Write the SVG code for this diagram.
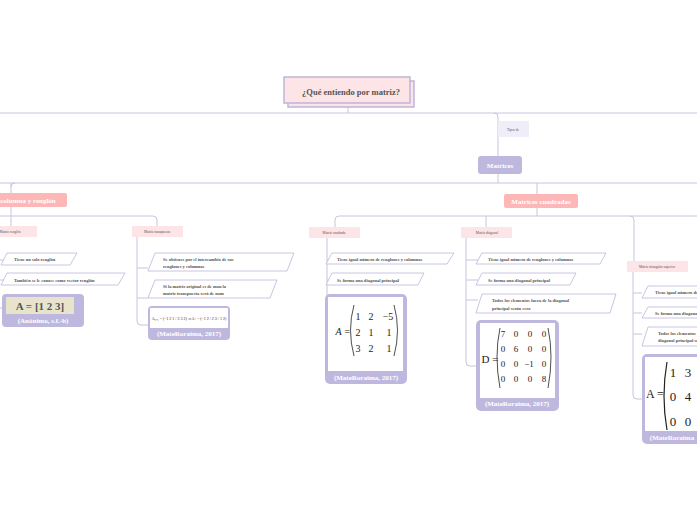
<svg xmlns="http://www.w3.org/2000/svg" width="697" height="520" viewBox="0 0 697 520">
<style>
.c{fill:none;stroke:#c9c3e0;stroke-width:1}
.t{font-family:"Liberation Serif",serif;fill:#555}
.sub{fill:#fde4e6}
.par{fill:#fff;stroke:#bdb5da;stroke-width:0.8}
.cap{fill:#bfb8de}
.w{fill:#fff}
.ct{font-family:"Liberation Serif",serif;fill:#fff;font-weight:bold;font-size:7px;text-anchor:middle}
.m{font-family:"Liberation Serif",serif;fill:#222;text-anchor:middle}
</style>
<rect width="697" height="520" fill="#fff"/>
<g id="connectors" class="c">
<path d="M348 104V113M0 113H697"/>
<path d="M494 113Q498 113 498 117V170"/>
<path d="M495 166L498 170L501 166"/>
<path d="M498 174V183M0 183H697"/>
<path d="M11 183V195M15 183Q11 183 11 187"/>
<path d="M537 183V195M11 207V216M0 216H153Q157 216 157 220V227"/>
<path d="M11 216V227M537 207V216M339 216H697M339 216Q335 216 335 220V227M486 216V227M630 216Q634 216 634 220V262"/>
<path d="M137 237V321Q137 325 141 325H148M137 268H148M137 298H148"/>
<path d="M327 237V352Q327 356 331 356H338M327 260H338M327 280H338M327 300H338"/>
<path d="M466 237V362Q466 366 470 366H478M466 260H478M466 280H478M466 300H478"/>
<path d="M633 271V395Q633 399 637 399H642M633 293H642M633 313H642M633 334H642"/>
<path d="M0 260H4M0 280H4M0 308H4"/>
</g>
<g id="root">
<rect x="288" y="81" width="126" height="26" fill="#fde4e6" stroke="#bdb5da" stroke-width="1.5"/>
<rect x="284" y="77" width="126" height="26" fill="#fde4e6" stroke="#bdb5da" stroke-width="1.5"/>
<text x="351" y="95" class="t" font-size="8.5" font-weight="bold" text-anchor="middle">¿Qué entiendo por matriz?</text>
</g>
<g id="tipos"><rect x="498" y="121" width="31" height="16" fill="#efedf8"/><text x="513" y="131" class="t" font-size="3.5" text-anchor="middle">Tipos de</text></g>
<g id="matrices"><rect x="478" y="156" width="44" height="18" rx="3" fill="#bfb8de"/><text x="500" y="168" class="ct" font-size="7">Matrices</text></g>
<g id="colren"><rect x="-10" y="193" width="77" height="14" rx="2" fill="#fdb7b7"/><text x="28" y="203" class="ct">columna y renglón</text></g>
<g id="cuadradas"><rect x="504" y="194" width="74" height="14" rx="2" fill="#fdb7b7"/><text x="541" y="204" class="ct">Matrices cuadradas</text></g>
<g id="renglon"><rect x="-2" y="226" width="39" height="11" class="sub"/><text x="10" y="233" class="t" font-size="3.5" text-anchor="middle">Matriz renglón</text></g>
<g id="transpuesta"><rect x="132" y="226" width="51" height="11" class="sub"/><text x="157" y="233" class="t" font-size="3.5" text-anchor="middle">Matriz transpuesta</text></g>
<g id="cuadrada"><rect x="309" y="227" width="51" height="11" class="sub"/><text x="334" y="234" class="t" font-size="3.5" text-anchor="middle">Matriz cuadrada</text></g>
<g id="diagonal"><rect x="461" y="227" width="51" height="11" class="sub"/><text x="487" y="234" class="t" font-size="3.5" text-anchor="middle">Matriz diagonal</text></g>
<g id="triangular"><rect x="627" y="261" width="61" height="11" class="sub"/><text x="657" y="268" class="t" font-size="3.5" text-anchor="middle">Matriz triangular superior</text></g>
<g id="r1"><path d="M7 253H77L70 265H1Z" class="par"/><text x="14" y="261" class="t" font-size="4.5" font-weight="bold">Tiene un solo renglón</text></g>
<g id="r2"><path d="M7 273H125L118 285H1Z" class="par"/><text x="14" y="282" class="t" font-size="4.5" font-weight="bold">También se le conoce como vector renglón</text></g>
<g id="r3"><rect x="2" y="294" width="82" height="33" rx="4" class="cap"/><rect x="6" y="297" width="68" height="17" fill="#e8e4cc"/><text x="40" y="310" class="t" font-size="11" font-weight="bold" text-anchor="middle" fill="#333">A = [1  2  3]</text><text x="43" y="323" class="ct">(Anónimo, s.f.-b)</text></g>
<g id="t1"><path d="M155 253H294L287 271H148Z" class="par"/><text x="163" y="261" class="t" font-size="4.5" font-weight="bold">Se obtienes por el intercambio de sus</text><text x="163" y="268" class="t" font-size="4.5" font-weight="bold">renglones y columnas</text></g>
<g id="t2"><path d="M155 280H277L270 298H148Z" class="par"/><text x="163" y="288" class="t" font-size="4.5" font-weight="bold">Si la matriz original es de mxn la</text><text x="163" y="295" class="t" font-size="4.5" font-weight="bold">matriz transpuesta será de nxm</text></g>
<g id="t3"><rect x="148" y="306" width="82" height="34" rx="4" class="cap"/><rect x="150" y="308" width="78" height="20" class="w"/><text x="189" y="320" class="m" font-size="4">A₂ₓ₃ = (−1 2 1 / 2 3 2)  ⇒  Aᵀ = (−1 2 / 2 3 / 1 2)</text><text x="189" y="336" class="ct">(MateRoraima, 2017)</text></g>
<g id="c1"><path d="M332 253H454L447 264H326Z" class="par"/><text x="337" y="261" class="t" font-size="4.5" font-weight="bold">Tiene igual número de renglones y columnas</text></g>
<g id="c2"><path d="M332 273H424L418 285H326Z" class="par"/><text x="337" y="282" class="t" font-size="4.5" font-weight="bold">Se forma una diagonal principal</text></g>
<g id="c3"><rect x="325" y="294" width="82" height="90" rx="5" class="cap"/><rect x="328" y="297" width="75" height="74" class="w"/>
<text x="343" y="335" class="m" font-size="10" font-style="italic">A =</text>
<g class="m" font-size="10"><text x="358" y="320">1</text><text x="371" y="320">2</text><text x="388" y="320">−5</text><text x="358" y="336">2</text><text x="371" y="336">1</text><text x="389" y="336">1</text><text x="358" y="352">3</text><text x="371" y="352">2</text><text x="389" y="352">1</text></g>
<path d="M354 305Q347 330 354 356M394 305Q401 330 394 356" fill="none" stroke="#222" stroke-width="0.8"/>
<text x="366" y="380" class="ct">(MateRoraima, 2017)</text></g>
<g id="d1"><path d="M482 253H606L600 264H476Z" class="par"/><text x="488" y="261" class="t" font-size="4.5" font-weight="bold">Tiene igual número de renglones y columnas</text></g>
<g id="d2"><path d="M482 273H576L570 285H476Z" class="par"/><text x="488" y="282" class="t" font-size="4.5" font-weight="bold">Se forma una diagonal principal</text></g>
<g id="d3"><path d="M482 294H616L610 313H476Z" class="par"/><text x="492" y="302" class="t" font-size="4.5" font-weight="bold">Todos los elementos fuera de la diagonal</text><text x="492" y="310" class="t" font-size="4.5" font-weight="bold">principal serán cero</text></g>
<g id="d4"><rect x="476" y="320" width="83" height="91" rx="5" class="cap"/><rect x="480" y="323" width="75" height="75" class="w"/>
<text x="490" y="363" class="m" font-size="11">D =</text>
<g class="m" font-size="9"><text x="503" y="337">7</text><text x="516" y="337">0</text><text x="530" y="337">0</text><text x="544" y="337">0</text><text x="503" y="352">0</text><text x="516" y="352">6</text><text x="530" y="352">0</text><text x="544" y="352">0</text><text x="503" y="367">0</text><text x="516" y="367">0</text><text x="529" y="367">−1</text><text x="544" y="367">0</text><text x="503" y="382">0</text><text x="516" y="382">0</text><text x="530" y="382">0</text><text x="544" y="382">8</text></g>
<path d="M500 328Q494 356 500 388M548 328Q554 356 548 388" fill="none" stroke="#222" stroke-width="0.8"/>
<text x="517" y="406" class="ct">(MateRoraima, 2017)</text></g>
<g id="s1"><path d="M648 286H720L714 298H642Z" class="par"/><text x="655" y="294" class="t" font-size="4.5" font-weight="bold">Tiene igual número de renglones y columnas</text></g>
<g id="s2"><path d="M648 307H720L714 318H642Z" class="par"/><text x="655" y="315" class="t" font-size="4.5" font-weight="bold">Se forma una diagonal principal</text></g>
<g id="s3"><path d="M648 327H720L714 346H642Z" class="par"/><text x="658" y="335" class="t" font-size="4.5" font-weight="bold">Todos los elementos fuera de la</text><text x="658" y="342" class="t" font-size="4.5" font-weight="bold">diagonal principal serán cero</text></g>
<g id="s4"><rect x="642" y="354" width="80" height="90" rx="5" class="cap"/><rect x="645" y="357" width="75" height="74" class="w"/>
<text x="655" y="398" class="m" font-size="12">A =</text>
<g class="m" font-size="13"><text x="673" y="377">1</text><text x="688" y="377">3</text><text x="673" y="401">0</text><text x="688" y="401">4</text><text x="673" y="426">0</text><text x="688" y="426">0</text></g>
<path d="M667 362Q661 396 667 430" fill="none" stroke="#222" stroke-width="1.2"/>
<text x="672" y="440" class="ct">(MateRoraima</text></g>
</svg>
